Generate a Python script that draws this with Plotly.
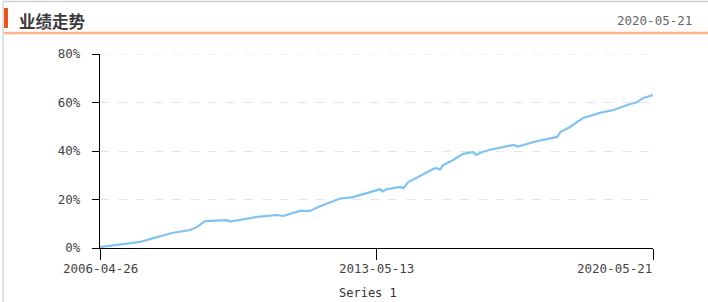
import plotly.graph_objects as go

# ---- data ----
dates = [
    "2006-04-26", "2007-05-03", "2007-10-08", "2008-02-24", "2008-08-10",
    "2008-10-15", "2008-12-28", "2009-07-20", "2009-08-17", "2010-04-26",
    "2010-10-27", "2010-12-23", "2011-05-28", "2011-08-29", "2011-12-01",
    "2012-06-05", "2012-10-04", "2013-02-13", "2013-06-13", "2013-07-01",
    "2013-08-15", "2013-12-15", "2014-01-12", "2014-02-28", "2014-07-16",
    "2014-11-06", "2014-12-20", "2015-01-18", "2015-04-20", "2015-05-30",
    "2015-07-23", "2015-10-23", "2015-11-21", "2016-01-15", "2016-04-26",
    "2016-10-30", "2016-12-16", "2017-05-05", "2017-10-08", "2017-11-06",
    "2017-12-12", "2018-01-10", "2018-04-12", "2018-06-17", "2018-08-10",
    "2019-01-15", "2019-05-19", "2019-09-24", "2019-12-28", "2020-02-21",
    "2020-05-21",
]
returns = [
    0.4, 2.5, 4.5, 6.2, 7.4,
    8.7, 11.1, 11.5, 10.9, 12.8,
    13.6, 13.2, 15.3, 15.3, 17.2,
    20.4, 21.0, 22.7, 24.3, 23.3,
    24.3, 25.2, 24.7, 27.2, 30.5,
    33.0, 32.4, 34.2, 36.3, 37.5,
    38.8, 39.6, 38.4, 39.6, 40.8,
    42.5, 41.8, 43.7, 45.2, 45.4,
    45.8, 47.8, 49.9, 52.0, 53.6,
    55.7, 56.9, 59.0, 60.2, 61.9,
    63.1,
]
series_name = "Series 1"
title_text = "业绩走势"
header_date = "2020-05-21"
x_ticks = ["2006-04-26", "2013-05-13", "2020-05-21"]
y_ticks = [0, 20, 40, 60, 80]
y_tick_labels = ["0%", "20%", "40%", "60%", "80%"]

# ---- layout geometry (pixels) ----
W, H = 708, 302
L, R, T, B = 100, 653, 54, 248
PW, PH = R - L, B - T


def px(x):
    return (x - L) / PW


def py(y):
    return (B - y) / PH


MONO = "DejaVu Sans Mono"
TXT = "#444444"

fig = go.Figure()
fig.add_trace(go.Scatter(
    x=dates, y=returns, mode="lines", name=series_name,
    line=dict(color="#7fc3f3", width=2.2), showlegend=False,
))

shapes = [
    # outer frame (top and left)
    dict(type="line", xref="paper", yref="paper", x0=px(3), x1=px(W + 5),
         y0=py(1.5), y1=py(1.5), line=dict(color="#d0d0d0", width=1.5)),
    dict(type="line", xref="paper", yref="paper", x0=px(3), x1=px(3),
         y0=py(1), y1=py(H + 5), line=dict(color="#d8d8d8", width=1.5)),
    # orange marker bar
    dict(type="rect", xref="paper", yref="paper", x0=px(4), x1=px(8),
         y0=py(8), y1=py(28), fillcolor="#e8561f", line=dict(width=0)),
    # orange underline
    dict(type="line", xref="paper", yref="paper", x0=px(4), x1=px(W + 5),
         y0=py(33), y1=py(33), line=dict(color="#fdb48b", width=2.5)),
    # top grid line (at the range edge)
    dict(type="line", xref="paper", yref="y", x0=0, x1=1,
         y0=y_ticks[-1], y1=y_ticks[-1], layer="below",
         line=dict(color="#e6e6e6", width=1, dash="dash")),
]

annotations = [
    dict(text=f"<b>{title_text}</b>", xref="paper", yref="paper",
         x=px(17), y=py(21), xanchor="left", yanchor="middle", showarrow=False,
         font=dict(family="Noto Sans CJK SC", size=16.5, color="#3a3a3a")),
    dict(text=header_date, xref="paper", yref="paper",
         x=px(694), y=py(21), xanchor="right", yanchor="middle", showarrow=False,
         font=dict(family=MONO, size=12.5, color="#666666")),
    dict(text=series_name, xref="paper", yref="paper",
         x=px(368), y=py(302), xanchor="center", yanchor="bottom", showarrow=False,
         font=dict(family=MONO, size=12, color="#333333")),
]
for i, t in enumerate(x_ticks):
    anchor = "right" if i == len(x_ticks) - 1 else "center"
    annotations.append(dict(
        text=t, xref="x", yref="paper", x=t, y=0, yshift=-20,
        xanchor=anchor, yanchor="middle", showarrow=False,
        xshift=1 if anchor == "right" else 0,
        font=dict(family=MONO, size=12.5, color=TXT),
    ))

fig.update_layout(
    width=W, height=H,
    margin=dict(l=L, r=W - R, t=T, b=H - B, pad=0),
    paper_bgcolor="white", plot_bgcolor="white",
    shapes=shapes, annotations=annotations,
    showlegend=False,
    xaxis=dict(
        type="date", range=[x_ticks[0], x_ticks[-1]],
        tickvals=x_ticks, showticklabels=False,
        ticks="outside", ticklen=11, tickcolor="#000", tickwidth=1.3,
        showline=True, linecolor="#000", linewidth=1.3,
        showgrid=False, zeroline=False,
    ),
    yaxis=dict(
        range=[0, 80], tickmode="array", tickvals=y_ticks, ticktext=y_tick_labels,
        ticks="outside", ticklen=7, tickcolor="#000", tickwidth=1.3,
        showline=True, linecolor="#000", linewidth=1.3,
        showgrid=True, gridcolor="#e6e6e6", griddash="dash", gridwidth=1,
        zeroline=False, ticklabelstandoff=9,
        tickfont=dict(family=MONO, size=12.5, color=TXT),
    ),
)

fig.write_html("out.html")
